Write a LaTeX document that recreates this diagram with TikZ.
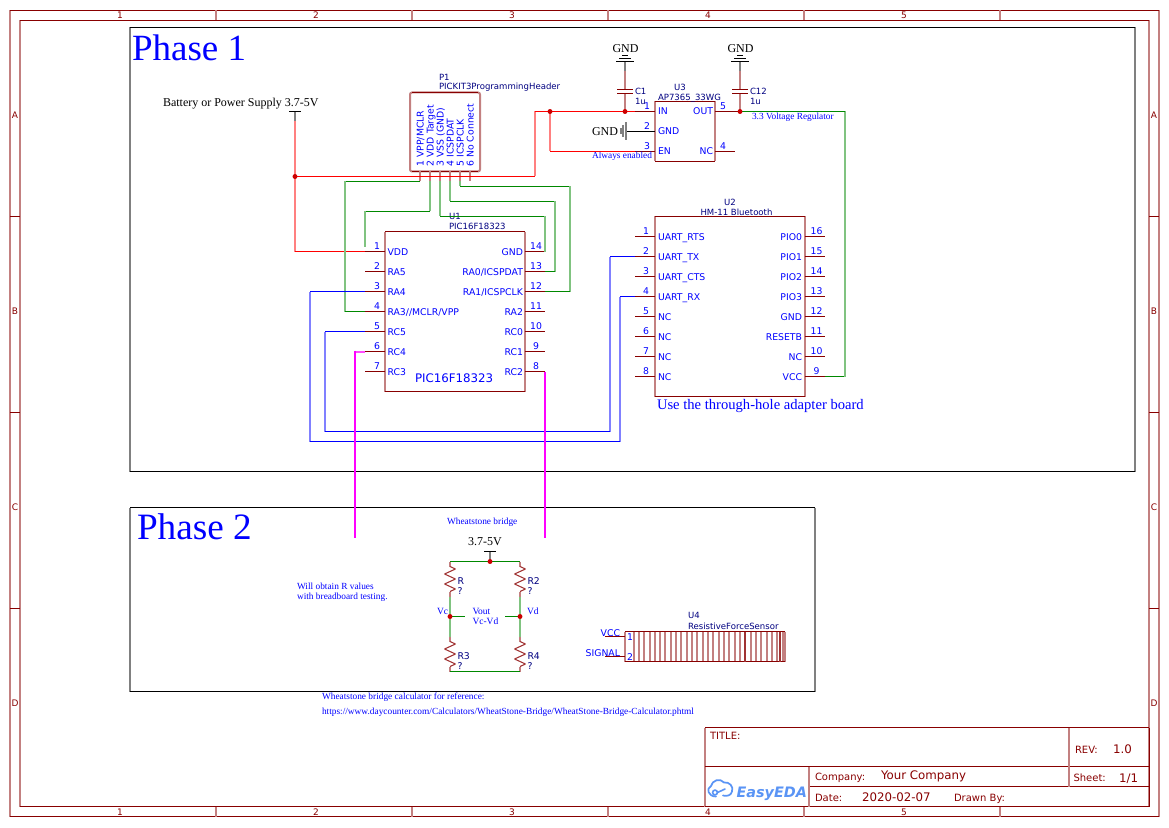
\documentclass[tikz,border=0pt]{standalone}
\usepackage{fontspec}
\setmainfont{Liberation Serif}
\setsansfont{DejaVu Sans}
\definecolor{fr}{HTML}{880000}
\definecolor{wg}{HTML}{008800}
\definecolor{wr}{HTML}{FF0000}
\definecolor{wb}{HTML}{0000FF}
\definecolor{wm}{HTML}{FF00FF}
\definecolor{nv}{HTML}{000080}
\definecolor{dotc}{HTML}{CC0000}
\definecolor{logo}{HTML}{5A94F5}
\newcommand{\fs}[1]{\fontsize{\dimexpr#1pt*3/4\relax}{\dimexpr#1pt*3/4\relax}\selectfont}
\tikzset{
  x=0.75pt,y=-0.75pt,
  hfr/.style={draw=fr,line width=0.75pt},
  vfr/.style={draw=fr!50!white,line width=1.5pt},
  hg/.style={draw=wg,line width=0.75pt},
  vg/.style={draw=wg!50!white,line width=1.5pt},
  hr/.style={draw=wr,line width=0.75pt},
  vr/.style={draw=wr!50!white,line width=1.5pt},
  hb/.style={draw=wb,line width=0.75pt},
  vb/.style={draw=wb!50!white,line width=1.5pt},
  hk/.style={draw=black,line width=0.75pt},
  vk/.style={draw=black!50!white,line width=1.5pt},
  hm/.style={draw=wm!70!white,line width=1.5pt},
  vm/.style={draw=wm,line width=1.5pt},
  jn/.style={circle,fill=dotc,draw=none,inner sep=0pt,minimum size=3.7pt},
  lab/.style={inner sep=0pt,outer sep=0pt,anchor=base west},
  pinname/.style={lab,text=wb,font=\sffamily\fs{9.3}},
  pinnameR/.style={pinname,anchor=base east},
  pinnum/.style={inner sep=0pt,outer sep=0pt,anchor=base,text=wb,font=\sffamily\fs{9.3}},
  refdes/.style={lab,text=nv,font=\sffamily\fs{8.55}},
  resdes/.style={lab,text=nv,font=\sffamily\fs{9.3}},
  serifb/.style={lab,text=wb,font=\rmfamily\fs{9.35}},
  blackserif/.style={lab,text=black,font=\rmfamily\fs{12}},
  fnum/.style={inner sep=0pt,outer sep=0pt,anchor=base,text=fr,font=\sffamily\fs{9}},
  tbl/.style={lab,text=fr,font=\sffamily\fs{10}},
  tbv/.style={lab,text=fr,font=\sffamily\fs{11.8}},
}
% box drawn as pale 2px verticals and crisp 1px horizontals
\newcommand{\boxfr}[4]{%
  \draw[vfr] (#1,#2) -- (#1,#4);
  \draw[vfr] (#3,#2) -- (#3,#4);
  \draw[hfr] (#1,#2) -- (#3,#2);
  \draw[hfr] (#1,#4) -- (#3,#4);
}
\newcommand{\boxbk}[4]{%
  \draw[vk] (#1,#2) -- (#1,#4);
  \draw[vk] (#3,#2) -- (#3,#4);
  \draw[hk] (#1,#2) -- (#3,#2);
  \draw[hk] (#1,#4) -- (#3,#4);
}
\begin{document}
\begin{tikzpicture}
\useasboundingbox (0,0) rectangle (1169,827);
\begin{scope}[yshift=-0.375pt]
% sheet frame
\boxfr{10}{10}{1159}{816}
\boxfr{20}{20}{1149}{806}
\foreach \x in {216,412,608,804,1000}{
  \draw[vfr] (\x,10) -- (\x,20);
  \draw[vfr] (\x,806) -- (\x,816);
}
\foreach \y in {216,412,608}{
  \draw[hfr] (10,\y) -- (20,\y);
  \draw[hfr] (1149,\y) -- (1159,\y);
}
\foreach \n/\x in {1/120,2/316,3/512,4/708,5/904}{
  \node[fnum] (ct\n) at (\x,18.5) {\n};
  \node[fnum] (cb\n) at (\x,814.5) {\n};
}
\foreach \n/\y in {A/115,B/311,C/507,D/703}{
  \node[fnum] (rl\n) at (15,\y+3) {\n};
  \node[fnum] (rr\n) at (1154,\y+3) {\n};
}
% title block
\boxfr{705}{727}{1149}{806}
\draw[hfr] (705,766) -- (1149,766);
\draw[hfr] (809,786) -- (1149,786);
\draw[vfr] (809,766) -- (809,806);
\draw[vfr] (1069,727) -- (1069,786);
\draw[hfr] (1149,727) -- (1149,806);
\node[tbl] (ttl) at (710,739) {TITLE:};
\node[tbl] (trev) at (1075,752.5) {REV:};
\node[tbv] (trevv) at (1113,753) {1.0};
\node[tbl] (tco) at (815,780) {Company:};
\node[tbv] (tcov) at (881,779) {Your Company};
\node[tbl] (tsh) at (1073.5,781) {Sheet:};
\node[tbv] (tshv) at (1119,782) {1/1};
\node[tbl] (tda) at (815,801) {Date:};
\node[tbv] (tdav) at (862,801) {2020-02-07};
\node[tbl] (tdr) at (954,801) {Drawn By:};
% logo
\draw[logo,line width=1.3pt,line cap=round,line join=round]
  (716,796) .. controls (708,796) and (706,788) .. (711,785.5)
  .. controls (712,780) and (720,777) .. (724,782)
  .. controls (729,781) and (734,786) .. (732,791)
  .. controls (731,795) and (727,796) .. (723,795);
\draw[logo,line width=1.2pt] (715,792) circle[radius=2.4];
\draw[logo,line width=1.2pt,line cap=round] (717.5,792) -- (725,788.5);
\node[lab,text=logo,font=\sffamily\bfseries\itshape\fs{14.4}] (logotext) at (736.5,797) {EasyEDA};
% group boxes
\boxbk{130}{27}{1135}{471}
\boxbk{130}{507}{815}{691}
\node[lab,text=wb,font=\rmfamily\fs{37}] (ph1) at (132,60) {Phase 1};
\node[lab,text=wb,font=\rmfamily\fs{37.2}] (ph2) at (137,539) {Phase 2};
% P1 header
\draw[vfr,rounded corners=1.5pt] (410,92) rectangle (480,171);
\draw[hfr] (412,92) -- (478,92);
\draw[hfr] (412,171) -- (478,171);
\node[refdes] (p1r) at (439,80) {P1};
\node[refdes] (p1v) at (439,89) {PICKIT3ProgrammingHeader};
\foreach \i/\x/\t in {1/420/1 VPP\slash MCLR,2/430/2 VDD Target,3/440/3 VSS (GND),4/450/4 ICSPDAT,5/460/5 ICSPCLK,6/470/6 No Connect}{
  \coordinate (p1x\i) at (\x,181);
  \draw[vfr] (\x,171) -- (p1x\i);
  \node[pinname,rotate=90] (p1t\i) at (\x+3.5,166) {\t};
}
% U1
\boxfr{385}{231}{525}{391}
\node[refdes] (u1r) at (449,219) {U1};
\node[refdes] (u1v) at (449,229) {PIC16F18323};
\node[lab,text=wb,font=\sffamily\fs{11.8}] (u1c) at (415,382) {PIC16F18323};
\foreach \i/\y/\t in {1/251/VDD,2/271/RA5,3/291/RA4,4/311/RA3\slash\slash MCLR\slash VPP,5/331/RC5,6/351/RC4,7/371/RC3}{
  \coordinate (u1p\i) at (365,\y);
  \draw[hfr] (u1p\i) -- (385,\y);
  \node[pinnum] (u1m\i) at (377,\y-2) {\i};
  \node[pinname] (u1t\i) at (387.5,\y+3.5) {\t};
}
\foreach \i/\y/\t in {14/251/GND,13/271/RA0\slash ICSPDAT,12/291/RA1\slash ICSPCLK,11/311/RA2,10/331/RC0,9/351/RC1,8/371/RC2}{
  \coordinate (u1p\i) at (545,\y);
  \draw[hfr] (525,\y) -- (u1p\i);
  \node[pinnum] (u1m\i) at (536,\y-2) {\i};
  \node[pinnameR] (u1t\i) at (523,\y+3.5) {\t};
}
% U2
\boxfr{655}{216}{805}{396}
\node[refdes] (u2r) at (724,204.5) {U2};
\node[refdes] (u2v) at (700.5,214.5) {HM-11 Bluetooth};
\foreach \i/\y/\t in {1/236/UART\_RTS,2/256/UART\_TX,3/276/UART\_CTS,4/296/UART\_RX,5/316/NC,6/336/NC,7/356/NC,8/376/NC}{
  \coordinate (u2p\i) at (635,\y);
  \draw[hfr] (u2p\i) -- (655,\y);
  \node[pinnum] (u2m\i) at (646,\y-2) {\i};
  \node[pinname] (u2t\i) at (658,\y+3.5) {\t};
}
\foreach \i/\y/\t in {16/236/PIO0,15/256/PIO1,14/276/PIO2,13/296/PIO3,12/316/GND,11/336/RESETB,10/356/NC,9/376/VCC}{
  \coordinate (u2p\i) at (825,\y);
  \draw[hfr] (805,\y) -- (u2p\i);
  \node[pinnum] (u2m\i) at (816.5,\y-2) {\i};
  \node[pinnameR] (u2t\i) at (802,\y+3.5) {\t};
}
\node[lab,text=wb,font=\rmfamily\fs{14.6}] (u2note) at (657,408.5) {Use the through-hole adapter board};
% U3
\boxfr{655}{101}{715}{161}
\node[refdes] (u3r) at (674,90.5) {U3};
\node[refdes] (u3v) at (658,100) {AP7365\_33WG};
\foreach \i/\y/\t in {1/111/IN,2/131/GND,3/151/EN}{
  \coordinate (u3p\i) at (635,\y);
  \draw[hfr] (u3p\i) -- (655,\y);
  \node[pinnum] (u3m\i) at (647,\y-2) {\i};
  \node[pinname] (u3t\i) at (658,\y+3.5) {\t};
}
\foreach \i/\y/\t in {5/111/OUT,4/151/NC}{
  \coordinate (u3p\i) at (735,\y);
  \draw[hfr] (715,\y) -- (u3p\i);
  \node[pinnum] (u3m\i) at (723,\y-2) {\i};
  \node[pinnameR] (u3t\i) at (713,\y+3.5) {\t};
}
\node[serifb] (always) at (592,158.5) {Always enabled};
\node[serifb] (vreg) at (752,119) {3.3 Voltage Regulator};
% junction coordinates
\coordinate (j1) at (295,176);
\coordinate (j2) at (550,111);
\coordinate (j3) at (625,111);
\coordinate (j4) at (740,111);
% capacitors with GND
\foreach \c/\x/\nm in {a/625/C1,b/740/C12}{
  \coordinate (cap\c t) at (\x,71);
  \coordinate (cap\c b) at (\x,111);
  \draw[vfr] (cap\c t) -- (\x,89);
  \draw[vfr] (\x,93) -- (cap\c b);
  \draw[hfr] (\x-8,89) -- (\x+8,89);
  \draw[hfr] (\x-8,93) -- (\x+8,93);
  \draw[vk] (\x,61) -- (cap\c t);
  \draw[hk] (\x-9,61) -- (\x+9,61);
  \draw[hk] (\x-6,58) -- (\x+6,58);
  \draw[hk] (\x-3,55) -- (\x+3,55);
  \node[blackserif] (gnd\c) at (\x-12.5,52) {GND};
  \node[refdes] (cn\c) at (\x+10,94) {\nm};
  \node[refdes] (cv\c) at (\x+10,104) {1u};
}
% GND at U3 pin 2
\node[blackserif] (gndl) at (592,135.5) {GND};
\draw[hk] (626,131) -- (u3p2) -- (655,131);
\draw[vk] (625.5,122) -- (625.5,140);
\draw[vk] (623,125) -- (623,137);
\draw[vk] (620.5,128) -- (620.5,134);
% supply net label
\node[blackserif] (batt) at (163,106) {Battery or Power Supply 3.7-5V};
\coordinate (battp) at (295,121);
\draw[vk] (295,111) -- (battp);
\draw[hk] (289,111) -- (301,111);
% red nets
\draw[vr] (battp) -- (j1);
\draw[vr] (j1) -- (295,251);
\draw[hr] (295,251) -- (u1p1);
\draw[hr] (j1) -- (535,176);
\draw[vr] (535,176) -- (535,111);
\draw[hr] (535,111) -- (j2);
\draw[hr] (j2) -- (j3);
\draw[hr] (j3) -- (u3p1);
\draw[vr] (j2) -- (550,151);
\draw[hr] (550,151) -- (u3p3);
% green nets
\draw[hg] (p1x1) -- (345,181);
\draw[vg] (345,181) -- (345,311);
\draw[hg] (345,311) -- (u1p4);
\draw[vg] (p1x2) -- (430,211);
\draw[hg] (430,211) -- (365,211);
\draw[vg] (365,211) -- (365,246);
\draw[vg] (p1x3) -- (440,216);
\draw[hg] (440,216) -- (545,216);
\draw[vg] (545,216) -- (u1p14);
\draw[vg] (p1x4) -- (450,201);
\draw[hg] (450,201) -- (555,201);
\draw[vg] (555,201) -- (555,271);
\draw[hg] (555,271) -- (u1p13);
\draw[vg] (p1x5) -- (460,186);
\draw[hg] (460,186) -- (570,186);
\draw[vg] (570,186) -- (570,291);
\draw[hg] (570,291) -- (u1p12);
\draw[hg] (u2p9) -- (845,376);
\draw[vg] (845,376) -- (845,111);
\draw[hg] (845,111) -- (j4);
\draw[hfr] (u3p5) -- (j4);
% blue nets
\draw[vb] (310,291) -- (310,441);
\draw[vb] (620,441) -- (620,296);
\draw[hb] (u1p3) -- (310,291);
\draw[hb] (310,441) -- (620,441);
\draw[hb] (620,296) -- (u2p4);
\draw[vb] (325,331) -- (325,431);
\draw[vb] (610,431) -- (610,256);
\draw[hb] (u1p5) -- (325,331);
\draw[hb] (325,431) -- (610,431);
\draw[hb] (610,256) -- (u2p2);
% magenta nets
\coordinate (m1) at (355,537);
\coordinate (m2) at (545,537);
\draw[hm] (u1p6) -- (354,351);
\draw[vm] (355,350) -- (m1);
\draw[vm] (u1p8) -- (m2);
% wheatstone bridge
\node[serifb] (wsb) at (447,524) {Wheatstone bridge};
\node[serifb] (wr1) at (297,589) {Will obtain R values};
\node[serifb] (wr2) at (297,599) {with breadboard testing.};
\node[blackserif] (v375) at (468,545) {3.7-5V};
\coordinate (jt) at (490,561);
\coordinate (jl) at (450,616);
\coordinate (jr) at (520,616);
\draw[vk] (490,551) -- (jt);
\draw[hk] (484,551) -- (496,551);
\draw[hg] (450,561) -- (520,561);
\foreach \s/\x/\y/\nm in {ra/450/561/R,rb/520/561/R2,rc/450/636/R3,rd/520/636/R4}{
  \coordinate (\s t) at (\x,\y);
  \coordinate (\s b) at (\x,\y+35);
  \draw[vfr] (\s t) -- ++(0,5);
  \draw[vfr] (\x,\y+30) -- (\s b);
  \draw[draw=fr!80!white,line width=0.8pt,line join=bevel] (\x,\y+5) -- ++(5.5,2.5) -- ++(-11,5) -- ++(11,5) -- ++(-11,5) -- ++(11,5) -- ++(-5.5,2.5);
  \node[resdes] (\s n) at (\x+7.5,\y+23) {\nm};
  \node[resdes] (\s v) at (\x+7.5,\y+33) {?};
}
\draw[vg] (rab) -- (jl);
\draw[vg] (jl) -- (rct);
\draw[vg] (rbb) -- (jr);
\draw[vg] (jr) -- (rdt);
\draw[hg] (rcb) -- (rdb);
\coordinate (vl) at (465,616);
\coordinate (vr) at (505,616);
\draw[hg] (jl) -- (vl);
\draw[hg] (jr) -- (vr);
\node[serifb,font=\rmfamily\fs{9.5}] (vc) at (437,614) {Vc};
\node[serifb,font=\rmfamily\fs{9.5}] (vd) at (527,614) {Vd};
\node[serifb,font=\rmfamily\fs{9.5}] (vout) at (472.5,614) {Vout};
\node[serifb,font=\rmfamily\fs{9.5}] (vcd) at (472.5,624) {Vc-Vd};
\node[serifb] (calc) at (322,699) {Wheatstone bridge calculator for reference:};
\node[serifb] (url) at (322,714) {https://www.daycounter.com/Calculators/WheatStone-Bridge/WheatStone-Bridge-Calculator.phtml};
% U4
\foreach \k in {0,...,28}{
  \draw[draw=fr!50!white,line width=1.5pt] ({633.5+\k*5.33},631) -- ({633.5+\k*5.33},661);
}
\boxfr{625}{631}{785}{661}
\draw[draw=fr!80!white,line width=1.4pt] (745,631) -- (745,661);
\draw[draw=fr!80!white,line width=1.4pt] (780,631) -- (780,661);
\node[refdes] (u4r) at (688,618) {U4};
\node[refdes] (u4v) at (688,628.5) {ResistiveForceSensor};
\coordinate (u4a) at (605,636);
\coordinate (u4b) at (605,656);
\draw[hfr] (u4a) -- (625,636);
\draw[hfr] (u4b) -- (625,656);
\node[pinnameR] (u4an) at (620,635.5) {VCC};
\node[pinnameR] (u4bn) at (620,655.5) {SIGNAL};
\node[pinnum] (u4a1) at (630,640) {1};
\node[pinnum] (u4b1) at (630,660) {2};
% junction dots
\foreach \j in {j1,j2,j3,j4,jt,jl,jr}{
  \node[jn] (dot\j) at (\j) {};
}
\end{scope}
\end{tikzpicture}
\end{document}
